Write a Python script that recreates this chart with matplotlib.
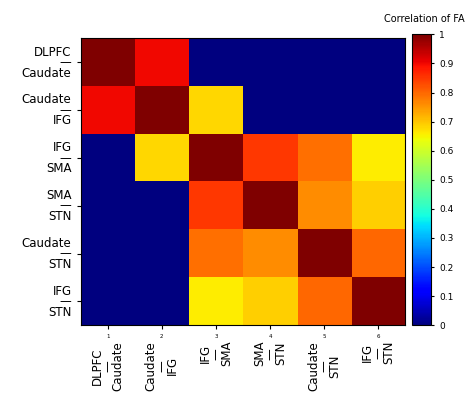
import matplotlib
matplotlib.use("Agg")
import matplotlib.pyplot as plt
import numpy as np

labels = ["DLPFC\n\u2014\nCaudate", "Caudate\n\u2014\nIFG", "IFG\n\u2014\nSMA",
          "SMA\n\u2014\nSTN", "Caudate\n\u2014\nSTN", "IFG\n\u2014\nSTN"]
corr = np.array([
    [1.00, 0.90, 0.00, 0.00, 0.00, 0.00],
    [0.90, 1.00, 0.68, 0.00, 0.00, 0.00],
    [0.00, 0.68, 1.00, 0.85, 0.79, 0.66],
    [0.00, 0.00, 0.85, 1.00, 0.76, 0.69],
    [0.00, 0.00, 0.79, 0.76, 1.00, 0.80],
    [0.00, 0.00, 0.66, 0.69, 0.80, 1.00],
])

fig = plt.figure(figsize=(4.74, 4.04), dpi=100, facecolor="white")
ax = fig.add_axes([0.17, 0.195, 0.685, 0.71])
cax = fig.add_axes([0.87, 0.195, 0.04, 0.72])

im = ax.imshow(corr, cmap="jet", vmin=0, vmax=1, aspect="auto", interpolation="nearest")
ax.set_xticks(range(6))
ax.set_xticklabels([str(i + 1) for i in range(6)], fontsize=4)
ax.set_yticks(range(6))
ax.set_yticklabels(labels, fontsize=8.5, linespacing=0.75)
ax.tick_params(length=3)

# rotated pair labels under the small tick numbers
for i, lab in enumerate(labels):
    ax.text(i, -0.055, lab, transform=ax.get_xaxis_transform(), rotation=90,
            ha="center", va="top", fontsize=8.5, linespacing=0.75)

cb = fig.colorbar(im, cax=cax, ticks=np.linspace(0, 1, 11))
cb.ax.set_yticklabels(["0", "0.1", "0.2", "0.3", "0.4", "0.5", "0.6", "0.7", "0.8", "0.9", "1"])
cb.ax.tick_params(labelsize=6.5, length=2)
fig.text(0.895, 0.945, "Correlation of FA", fontsize=7, ha="center")

fig.savefig("out.png", dpi=100)
